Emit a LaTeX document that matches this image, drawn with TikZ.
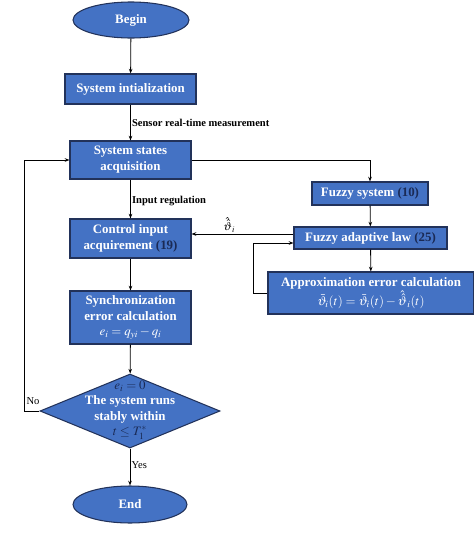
\documentclass[tikz,border=0pt]{standalone}
\usepackage{mathptmx}
\usepackage[no-math]{fontspec}
\setmainfont{Liberation Serif}
\usetikzlibrary{shapes.geometric,arrows.meta}
\definecolor{boxblue}{HTML}{4472C4}
\definecolor{boxline}{HTML}{22325A}
\definecolor{numcol}{HTML}{1A2A55}
\newcommand{\eqlabel}[1]{\textcolor{numcol}{(#1)}}
\tikzset{
  stepbox/.style={rectangle,draw=boxline,fill=boxblue,line width=0.9pt,
    text=white,font=\fontsize{11}{13.5}\selectfont\bfseries,align=center,inner sep=1pt},
  termnode/.style={ellipse,draw=boxline,fill=boxblue,line width=0.9pt,
    text=white,font=\fontsize{11}{13.5}\selectfont\bfseries,inner sep=0pt},
  flow/.style={-{Stealth[length=4pt,width=3pt]},line width=0.7pt},
  sidelabel/.style={font=\small\bfseries,anchor=west,inner sep=1pt}
}
\begin{document}
\begin{tikzpicture}[x=0.03cm,y=-0.03cm]
      \useasboundingbox (0,0) rectangle (474,550);
      % main column
      \draw
        (131,20) node[termnode,minimum width=3.48cm,minimum height=1.08cm] (begin){Begin}
        (130.5,89) node[stepbox,minimum width=3.93cm,minimum height=0.9cm] (init){System intialization}
        (130.5,160) node[stepbox,minimum width=3.63cm,minimum height=1.14cm] (acq){System states\\acquisition}
        (130.5,238.5) node[stepbox,minimum width=3.63cm,minimum height=1.17cm] (ctrl){Control input\\acquirement \eqlabel{19}}
        (130.5,317.5) node[stepbox,minimum width=3.63cm,minimum height=1.59cm] (sync){Synchronization\\error calculation\\$e_i=q_{yi}-q_i$}
        (130,411) node[diamond,draw=boxline,fill=boxblue,line width=0.9pt,inner sep=0pt,minimum width=5.4cm,minimum height=2.22cm] (dec){}
        (130,410) node[text=white,font=\fontsize{11}{13}\selectfont\bfseries,align=center,inner sep=0pt] (dectext){\textcolor{numcol}{$e_i=0$}\\The system runs\\stably within\\\textcolor{numcol}{$t\le T_1^{*}$}}
        (130,504.5) node[termnode,minimum width=3.42cm,minimum height=1.11cm] (end){End};
      % fuzzy column
      \draw
        (370,193.5) node[stepbox,minimum width=3.48cm,minimum height=0.69cm] (fuzzy){Fuzzy system \eqlabel{10}}
        (370.5,238) node[stepbox,minimum width=4.59cm,minimum height=0.66cm] (law){Fuzzy adaptive law \eqlabel{25}}
        (371,293) node[stepbox,minimum width=6.18cm,minimum height=1.26cm] (approx){Approximation error calculation\\[1pt]$\bar{\vartheta}_i(t)=\bar{\vartheta}_i(t)-\hat{\hat{\vartheta}}_i(t)$};
      \coordinate (nocorner) at (24,411);
      \coordinate (loopcorner) at (253,293);
      \begin{scope}[flow]
        \draw (begin) to (init);
        \draw (init) to node[sidelabel,pos=0.5]{Sensor real-time measurement} (acq);
        \draw (acq) to node[sidelabel,pos=0.55]{Input regulation} (ctrl);
        \draw (ctrl) to (sync);
        \draw (sync) to (dec);
        \draw (dec) to node[sidelabel,font=\small,pos=0.45]{Yes} (end);
        \draw (dec.west) -- (nocorner) |- (acq.west);
        \draw (acq.east) -| (fuzzy.north);
        \draw (fuzzy) to (law);
        \draw (law) to (approx);
        \draw ([yshift=0.12cm]law.west) -- node[above,inner sep=1pt,xshift=-0.4cm]{$\hat{\hat{\vartheta}}_i$} ([yshift=0.12cm]law.west -| ctrl.east);
        \draw (approx.west) -- (loopcorner) |- ([yshift=-0.15cm]law.west);
      \end{scope}
      \node[font=\small,anchor=south] (nolabel) at (33,409) {No};
    \end{tikzpicture}
\end{document}
